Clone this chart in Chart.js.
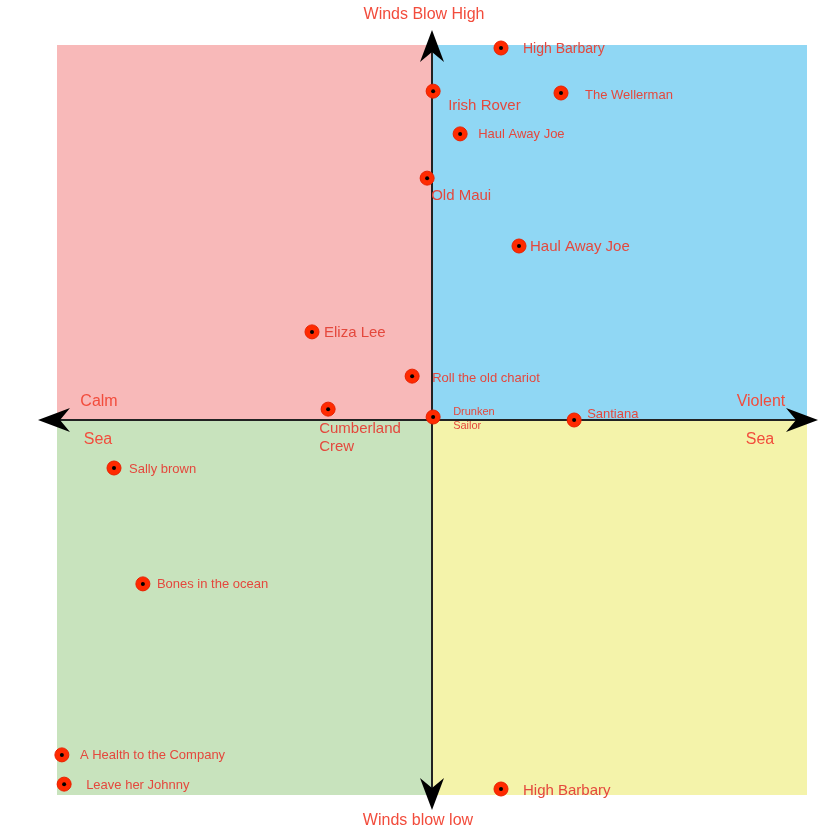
<!DOCTYPE html>
<html>
<head>
<meta charset="utf-8">
<script src="https://cdn.jsdelivr.net/npm/chart.js@4.4.1/dist/chart.umd.min.js"></script>
<style>
  html, body { margin: 0; padding: 0; background: #fff; }
  #wrap { width: 840px; height: 840px; }
</style>
</head>
<body>
<div id="wrap"><canvas id="myChart"></canvas></div>
<script>
// songs placed on the calm/violent (x) and winds low/high (y) grid, -10..10
const songs = [
  'High Barbary', 'Irish Rover', 'The Wellerman', 'Haul Away Joe', 'Old Maui',
  'Haul Away Joe', 'Eliza Lee', 'Roll the old chariot', 'Cumberland\nCrew',
  'Drunken\nSailor', 'Santiana', 'Sally brown', 'Bones in the ocean',
  'A Health to the Company', 'Leave her Johnny', 'High Barbary'
]
const violence = [1.84, 0.03, 3.44, 0.75, -0.13, 2.32, -3.2, -0.53, -2.77, 0.03, 3.79, -8.48, -7.71, -9.87, -9.81, 1.84]
const winds = [9.92, 8.77, 8.72, 7.63, 6.45, 4.64, 2.35, 1.17, 0.29, 0.08, 0, -1.28, -4.37, -8.93, -9.71, -9.84]

const axisTop = 'Winds Blow High'
const axisBottom = 'Winds blow low'
const axisLeft = ['Calm', 'Sea']
const axisRight = ['Violent', 'Sea']

// label placement relative to each point: [dx, dy, fontSize]
const labelStyle = [
  [22, 1, 14], [15, 15, 15], [24, 2, 13], [18, 1, 13], [4, 18, 15],
  [11, 1, 15], [12, 1, 15], [20, 2, 13], [-9, 20, 15], [20, -5, 11],
  [13, -6, 13], [15, 1, 13], [14, 1, 13], [18, 1, 13], [22, 1, 13], [22, 2, 15]
]

const pts = violence.map((v, i) => ({ x: v, y: winds[i] }))
const labelColor = '#e4483d'
const fontFam = '"Liberation Sans", Arial, Helvetica, sans-serif'

function arrowHead(c, tipX, tipY, dirX, dirY) {
  // barbed arrow head, length 32, half width 12
  const len = 32, half = 12, notch = 22
  const px = -dirY, py = dirX
  c.beginPath()
  c.moveTo(tipX, tipY)
  c.lineTo(tipX - dirX * len + px * half, tipY - dirY * len + py * half)
  c.lineTo(tipX - dirX * notch, tipY - dirY * notch)
  c.lineTo(tipX - dirX * len - px * half, tipY - dirY * len - py * half)
  c.closePath()
  c.fill()
}

const quadrantPlugin = {
  id: 'quadrants',
  beforeDatasetsDraw(chart) {
    const c = chart.ctx
    const { x, y } = chart.scales
    const l = x.getPixelForValue(-10), r = x.getPixelForValue(10)
    const t = y.getPixelForValue(10), b = y.getPixelForValue(-10)
    const cx = x.getPixelForValue(0), cy = y.getPixelForValue(0)
    c.save()
    c.fillStyle = '#f8b9b9'; c.fillRect(l, t, cx - l, cy - t)
    c.fillStyle = '#90d7f4'; c.fillRect(cx, t, r - cx, cy - t)
    c.fillStyle = '#c8e3bd'; c.fillRect(l, cy, cx - l, b - cy)
    c.fillStyle = '#f4f3aa'; c.fillRect(cx, cy, r - cx, b - cy)

    // axes with arrows
    c.strokeStyle = '#222'
    c.fillStyle = '#000'
    c.lineWidth = 2
    c.beginPath()
    c.moveTo(l - 5, cy); c.lineTo(r + 5, cy)
    c.moveTo(cx, t - 5); c.lineTo(cx, b + 5)
    c.stroke()
    arrowHead(c, l - 19, cy, -1, 0)
    arrowHead(c, r + 11, cy, 1, 0)
    arrowHead(c, cx, t - 15, 0, -1)
    arrowHead(c, cx, b + 15, 0, 1)

    // axis captions
    c.fillStyle = '#f24c3c'
    c.font = '16px ' + fontFam
    c.textBaseline = 'middle'
    c.textAlign = 'center'
    c.fillText(axisTop, cx - 8, t - 30)
    c.fillText(axisBottom, cx - 14, b + 26)
    c.fillText(axisLeft[0], l + 42, cy - 18)
    c.fillText(axisLeft[1], l + 41, cy + 20)
    c.fillText(axisRight[0], r - 46, cy - 18)
    c.fillText(axisRight[1], r - 47, cy + 20)
    c.restore()
  },
  afterDatasetsDraw(chart) {
    const c = chart.ctx
    const meta = chart.getDatasetMeta(0)
    c.save()
    c.fillStyle = labelColor
    c.textAlign = 'left'
    c.textBaseline = 'middle'
    meta.data.forEach((el, i) => {
      const [dx, dy, size] = labelStyle[i]
      c.font = size + 'px ' + fontFam
      songs[i].split('\n').forEach((line, k) => {
        c.fillText(line, el.x + dx, el.y + dy + k * (size + 3))
      })
    })
    c.restore()
  }
}

new Chart(document.getElementById('myChart'), {
  type: 'scatter',
  data: {
    datasets: [
      {
        // black centre dots (dataset 0 is painted last, on top)
        data: pts,
        pointRadius: 2,
        pointBackgroundColor: '#000',
        pointBorderWidth: 0,
        clip: false,
      },
      {
        data: pts,
        pointRadius: 7,
        pointBackgroundColor: '#ff2a00',
        pointBorderColor: '#e82000',
        pointBorderWidth: 1,
        clip: false,
      },
    ],
  },
  options: {
    responsive: true,
    maintainAspectRatio: false,
    animation: false,
    layout: { padding: { left: 57, right: 33, top: 45, bottom: 45 } },
    plugins: { legend: { display: false }, tooltip: { enabled: false } },
    scales: {
      x: { min: -10, max: 10, display: false },
      y: { min: -10, max: 10, display: false },
    },
  },
  plugins: [quadrantPlugin],
})
</script>
</body>
</html>
